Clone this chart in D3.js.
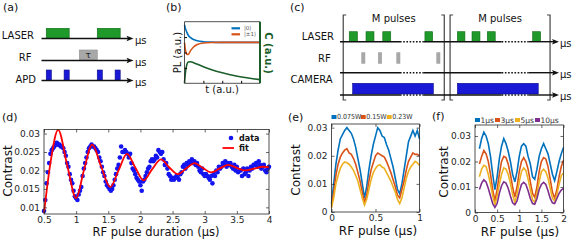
<!DOCTYPE html>
<html>
<head>
<meta charset="utf-8">
<script src="https://cdn.jsdelivr.net/npm/d3@7/dist/d3.min.js"></script>
<style>
  html, body { margin: 0; padding: 0; background: #fff; }
  svg { display: block; font-family: 'DejaVu Sans', sans-serif; }
</style>
</head>
<body>
<svg id="fig" width="575" height="240"></svg>
<script>
/* ---- (a) pulse sequence, arbitrary time units 0..10 ---- */
const aLaser = [[0.5, 3.2], [6.5, 9.2]];
const aRF = [[4.4, 6.5]];
const aAPD = [[0.5, 1.1], [2.6, 3.2], [6.5, 7.1], [8.6, 9.2]];

/* ---- (b) PL / contrast sketch, arbitrary units ---- */
const bT = [0, 0.01, 0.03, 0.05, 0.08, 0.12, 0.17, 0.25, 0.35, 0.5, 0.7, 1.0];
const bPL0 = [0.95, 0.9, 0.83, 0.78, 0.74, 0.71, 0.69, 0.675, 0.668, 0.665, 0.665, 0.665];
const bPL1 = [0.66, 0.56, 0.47, 0.47, 0.53, 0.59, 0.63, 0.655, 0.663, 0.665, 0.665, 0.665];
const bC = [0.0, 0.15, 0.3, 0.345, 0.35, 0.335, 0.31, 0.27, 0.225, 0.17, 0.115, 0.06];

/* ---- (c) camera sequence, arbitrary units 0..100 ---- */
const cLaser = [[4.3, 8.1], [12.1, 15.8], [19.9, 23.6], [39.5, 43.1], [54.6, 58.1], [61.4, 65.1], [68.5, 72.2], [89.6, 93.3]];
const cRF = [[10.1, 11.6], [17.8, 19.4], [26.4, 27.9], [45, 46.5]];
const cCamera = [[5.9, 43.4], [54.6, 92.2]];
const cGaps = [[27.9, 38.7], [75.2, 87.6]];
const cBrackets = [[1.5, 48.5], [51.2, 97.7]];

/* ---- (d) Rabi data + fit ---- */
const dStart = 0.5, dStep = 0.02;
const dData = [
  0.009, 0.012, 0.0165, 0.0195, 0.022, 0.0245, 0.0255, 0.026, 0.0265, 0.027,
  0.0275, 0.027, 0.027, 0.0265, 0.0265, 0.026, 0.025, 0.024, 0.022, 0.021,
  0.019, 0.0175, 0.0165, 0.0145, 0.013, 0.0125, 0.012, 0.0135, 0.0145, 0.0155,
  0.0185, 0.0205, 0.022, 0.0235, 0.025, 0.026, 0.0265, 0.027, 0.0265, 0.0265,
  0.026, 0.0255, 0.025, 0.0235, 0.0225, 0.021, 0.0195, 0.0185, 0.017, 0.016,
  0.0155, 0.015, 0.0145, 0.015, 0.016, 0.0175, 0.019, 0.0205, 0.0215, 0.0235,
  0.0265, 0.025, 0.025, 0.0255, 0.025, 0.0245, 0.0235, 0.0245, 0.022, 0.0205,
  0.02, 0.019, 0.018, 0.0175, 0.017, 0.016, 0.0145, 0.017, 0.0175, 0.0185,
  0.0195, 0.0205, 0.021, 0.0225, 0.023, 0.0225, 0.023, 0.024, 0.0235, 0.0255,
  0.025, 0.0245, 0.025, 0.023, 0.0215, 0.022, 0.0205, 0.019, 0.0185, 0.0175,
  0.018, 0.0175, 0.018, 0.0185, 0.018, 0.0175, 0.019, 0.0195, 0.021, 0.0215,
  0.0205, 0.022, 0.0215, 0.0225, 0.022, 0.023, 0.022, 0.0225, 0.0215, 0.022,
  0.021, 0.02, 0.0195, 0.0205, 0.019, 0.0185, 0.019, 0.0185, 0.018, 0.0175,
  0.0185, 0.0165, 0.019, 0.0185, 0.02, 0.0195, 0.021, 0.0205, 0.021, 0.022,
  0.0215, 0.0225, 0.021, 0.022, 0.0215, 0.022, 0.021, 0.0205, 0.0215, 0.02,
  0.021, 0.0195, 0.02, 0.02, 0.0185, 0.0205, 0.019, 0.0195, 0.0205, 0.0185,
  0.02, 0.021, 0.0205, 0.0215, 0.0215, 0.022, 0.021, 0.0225, 0.0215, 0.0205,
  0.021, 0.0215, 0.02, 0.0195, 0.0205, 0.021
];
const fitT = [0.5, 0.6, 0.72, 0.86, 1.0, 1.12, 1.25, 1.39, 1.53, 1.66, 1.79, 1.92, 2.05, 2.18,
  2.32, 2.45, 2.58, 2.71, 2.84, 2.97, 3.10, 3.23, 3.37, 3.50, 3.63, 3.77, 3.90, 4.0];
const fitV = [0.0085, 0.022, 0.031, 0.0215, 0.0125, 0.020, 0.027, 0.021, 0.0155, 0.020, 0.0245, 0.0208,
  0.0173, 0.0203, 0.023, 0.0208, 0.019, 0.0205, 0.022, 0.0207, 0.0195, 0.0205, 0.0215, 0.0207,
  0.0200, 0.0205, 0.021, 0.0209];

/* ---- (e) power dependence ---- */
const eT = d3.range(0, 41).map(i => i * 0.025);
const eNames = ['0.075W', '0.15W', '0.23W'];
const eSeries = [
  [0.003, 0.010, 0.017, 0.022, 0.026, 0.0275, 0.029, 0.030, 0.029, 0.028, 0.026, 0.023, 0.019, 0.015,
   0.010, 0.005, 0.009, 0.015, 0.020, 0.024, 0.027, 0.030, 0.029, 0.027, 0.0265, 0.024, 0.022, 0.019,
   0.016, 0.012, 0.008, 0.0065, 0.010, 0.015, 0.020, 0.025, 0.027, 0.029, 0.027, 0.029, 0.026],
  [0.002, 0.007, 0.013, 0.017, 0.0195, 0.021, 0.022, 0.0225, 0.021, 0.0205, 0.019, 0.017, 0.014, 0.011,
   0.007, 0.0035, 0.006, 0.011, 0.015, 0.0175, 0.020, 0.021, 0.0205, 0.020, 0.0195, 0.018, 0.016, 0.014,
   0.0115, 0.009, 0.006, 0.005, 0.008, 0.011, 0.015, 0.018, 0.0195, 0.021, 0.0205, 0.0205, 0.020],
  [0.0015, 0.005, 0.010, 0.013, 0.0155, 0.017, 0.0178, 0.0175, 0.017, 0.016, 0.0148, 0.013, 0.011, 0.008,
   0.005, 0.0025, 0.0045, 0.008, 0.0115, 0.014, 0.0155, 0.0165, 0.0168, 0.016, 0.0155, 0.014, 0.0125, 0.011,
   0.009, 0.007, 0.0045, 0.003, 0.005, 0.0085, 0.012, 0.0145, 0.016, 0.017, 0.018, 0.0175, 0.0165]
];

/* ---- (f) laser pulse length dependence ---- */
const fT = d3.range(0, 39).map(i => 0.1 + i * 0.05);
const fNames = ['1µs', '3µs', '5µs', '10µs'];
const fSeries = [
  [0.025, 0.029, 0.0315, 0.030, 0.027, 0.022, 0.015, 0.009, 0.014, 0.021, 0.026, 0.029, 0.027,
   0.024, 0.020, 0.015, 0.012, 0.016, 0.022, 0.026, 0.027, 0.026, 0.022, 0.019, 0.014, 0.013,
   0.017, 0.022, 0.025, 0.027, 0.025, 0.023, 0.019, 0.015, 0.0125, 0.016, 0.020, 0.023, 0.0255],
  [0.019, 0.022, 0.0243, 0.023, 0.020, 0.015, 0.009, 0.0045, 0.009, 0.015, 0.020, 0.022, 0.0215,
   0.019, 0.015, 0.010, 0.006, 0.010, 0.016, 0.020, 0.0215, 0.020, 0.017, 0.012, 0.0075, 0.006,
   0.010, 0.016, 0.020, 0.0215, 0.021, 0.018, 0.013, 0.008, 0.0055, 0.009, 0.014, 0.018, 0.0205],
  [0.014, 0.017, 0.0185, 0.018, 0.015, 0.011, 0.0065, 0.003, 0.0065, 0.011, 0.015, 0.0175, 0.017,
   0.015, 0.0115, 0.007, 0.004, 0.007, 0.012, 0.016, 0.0175, 0.0165, 0.013, 0.009, 0.005, 0.004,
   0.0075, 0.012, 0.016, 0.017, 0.016, 0.0135, 0.0095, 0.0055, 0.0045, 0.007, 0.011, 0.0145, 0.0155],
  [0.009, 0.0115, 0.0128, 0.012, 0.0095, 0.0065, 0.0035, 0.002, 0.0035, 0.0075, 0.0105, 0.012, 0.0115,
   0.0095, 0.0065, 0.0038, 0.003, 0.0045, 0.008, 0.011, 0.0118, 0.011, 0.0085, 0.0055, 0.0035, 0.0032,
   0.0055, 0.009, 0.011, 0.0118, 0.011, 0.0085, 0.0055, 0.0038, 0.0035, 0.0055, 0.0075, 0.0088, 0.0095]
];

const MAT = ['#0072BD', '#D95319', '#EDB120', '#7E2F8E'];
const GREEN = '#1f9a2a', GREEN_DK = '#0e6a15';
const BLUE_P = '#1a1ad6', BLUE_DK = '#0a0a8a';
const AX = '#262626';

const svg = d3.select('#fig');
svg.append('rect').attr('width', 575).attr('height', 240).attr('fill', '#fff');

function label(txt, x, y, opts = {}) {
  const t = svg.append('text')
    .attr('x', x).attr('y', y)
    .attr('dy', '0.35em')
    .attr('text-anchor', opts.anchor || 'start')
    .attr('font-size', opts.size || 10)
    .attr('font-weight', opts.weight || 'normal')
    .attr('fill', opts.fill || '#111')
    .text(txt);
  if (opts.family) t.attr('font-family', opts.family);
  return t;
}

function vlabel(txt, x, y, opts = {}) {
  return svg.append('text')
    .attr('transform', `translate(${x},${y}) rotate(${opts.rot || -90})`)
    .attr('dy', '0.35em')
    .attr('text-anchor', 'middle')
    .attr('font-size', opts.size || 11)
    .attr('font-weight', opts.weight || 'normal')
    .attr('fill', opts.fill || '#111')
    .text(txt);
}

/* arrow line with optional dotted gaps */
function timeLine(g, x, y, x0, tip, gaps) {
  const stops = [x0];
  (gaps || []).forEach(([a, b]) => { stops.push(x(a), x(b)); });
  stops.push(tip - 5);
  for (let i = 0; i < stops.length - 1; i++) {
    g.append('line')
      .attr('x1', stops[i]).attr('x2', stops[i + 1])
      .attr('y1', y).attr('y2', y)
      .attr('stroke', '#111').attr('stroke-width', 1.4)
      .attr('stroke-dasharray', i % 2 === 1 ? '1.6,1.6' : null);
  }
  g.append('path')
    .attr('d', `M${tip},${y} L${tip - 7},${y - 2.8} L${tip - 5.5},${y} L${tip - 7},${y + 2.8} Z`)
    .attr('fill', '#111');
}

function pulses(g, x, list, yTop, yBot, fill, stroke) {
  g.selectAll(null).data(list).join('rect')
    .attr('x', d => x(d[0])).attr('width', d => x(d[1]) - x(d[0]))
    .attr('y', yTop).attr('height', yBot - yTop)
    .attr('fill', fill).attr('stroke', stroke).attr('stroke-width', 0.6);
}

/* ================= (a) ================= */
(function () {
  const g = svg.append('g');
  const x = d3.scaleLinear().domain([0, 10]).range([42, 127]);
  label('(a)', 3, 7, { size: 11 });
  const rows = [
    { name: 'LASER', y: 38.5, ly: 35.5, lx: 34 },
    { name: 'RF', y: 60.5, ly: 57.5, lx: 31.5 },
    { name: 'APD', y: 80.5, ly: 79, lx: 36 }
  ];
  pulses(g, x, aLaser, 28.3, 38.5, GREEN, GREEN_DK);
  pulses(g, x, aRF, 50, 59.5, '#a8a8a8', '#8c8c8c');
  g.append('text').attr('x', x((aRF[0][0] + aRF[0][1]) / 2)).attr('y', 55)
    .attr('dy', '0.35em').attr('text-anchor', 'middle').attr('font-size', 9).attr('fill', '#222').text('τ');
  pulses(g, x, aAPD, 70, 80.5, BLUE_P, BLUE_DK);
  rows.forEach(r => {
    timeLine(g, x, r.y, 41.5, 133.5, []);
    label(r.name, r.lx, r.ly, { anchor: 'end' });
    label('µs', 135, r.y + 1.5);
  });
})();

/* ================= (b) ================= */
(function () {
  const g = svg.append('g');
  const x = d3.scaleLinear().domain([0, 1]).range([184.5, 260]);
  const y = d3.scaleLinear().domain([0, 1]).range([83.3, 21.7]);
  label('(b)', 166, 7, { size: 11 });
  const line = vals => d3.line().x((d, i) => x(bT[i])).y(d => y(d)).curve(d3.curveMonotoneX)(vals);
  g.append('path').attr('d', line(bC)).attr('fill', 'none').attr('stroke', '#1b5e2a').attr('stroke-width', 1.6);
  g.append('path').attr('d', line(bPL0)).attr('fill', 'none').attr('stroke', MAT[0]).attr('stroke-width', 1.6);
  g.append('path').attr('d', line(bPL1)).attr('fill', 'none').attr('stroke', MAT[1]).attr('stroke-width', 1.6);
  // axes frame
  g.append('line').attr('x1', 184.5).attr('x2', 184.5).attr('y1', 21.7).attr('y2', 83.3).attr('stroke', AX).attr('stroke-width', 0.8);
  g.append('line').attr('x1', 184.5).attr('x2', 260).attr('y1', 83.3).attr('y2', 83.3).attr('stroke', AX).attr('stroke-width', 0.8);
  g.append('line').attr('x1', 184.5).attr('x2', 260).attr('y1', 21.7).attr('y2', 21.7).attr('stroke', AX).attr('stroke-width', 0.8);
  g.append('line').attr('x1', 260).attr('x2', 260).attr('y1', 21.7).attr('y2', 83.3).attr('stroke', '#1b5e2a').attr('stroke-width', 2);
  g.append('g').attr('transform', 'translate(0,83.3)')
    .call(d3.axisBottom(x).tickValues([0.25, 0.5, 0.75]).tickSizeInner(-2.5).tickSizeOuter(0).tickFormat(''))
    .call(s => s.select('.domain').remove());
  g.append('g').attr('transform', 'translate(184.5,0)')
    .call(d3.axisLeft(y).tickValues([0.25, 0.5, 0.75]).tickSizeInner(-2.5).tickSizeOuter(0).tickFormat(''))
    .call(s => s.select('.domain').remove());
  // legend
  const leg = [['|0⟩', MAT[0], 28.3], ['|±1⟩', MAT[1], 34.3]];
  leg.forEach(([t, c, yy]) => {
    g.append('line').attr('x1', 231.5).attr('x2', 240).attr('y1', yy).attr('y2', yy).attr('stroke', c).attr('stroke-width', 2.2);
    g.append('text').attr('x', 244).attr('y', yy).attr('dy', '0.35em').attr('font-size', 5.5).attr('fill', '#555').text(t);
  });
  vlabel('PL (a.u.)', 177.5, 52.5, { size: 10 });
  label('t (a.u.)', 222, 89.5, { anchor: 'middle', size: 10 });
  vlabel('C (a.u.)', 268.5, 53, { size: 10, rot: 90, weight: 'bold', fill: '#1b5e2a' });
})();

/* ================= (c) ================= */
(function () {
  const g = svg.append('g');
  const x = d3.scaleLinear().domain([0, 100]).range([340, 555]);
  label('(c)', 290, 7, { size: 11 });
  cBrackets.forEach(([a, b]) => {
    g.append('path').attr('d', `M${x(a) + 3},15 H${x(a)} V100 H${x(a) + 3}`)
      .attr('fill', 'none').attr('stroke', '#444').attr('stroke-width', 1.2);
    g.append('path').attr('d', `M${x(b) - 3},15 H${x(b)} V100 H${x(b) - 3}`)
      .attr('fill', 'none').attr('stroke', '#444').attr('stroke-width', 1.2);
    label('M pulses', (x(a) + x(b)) / 2, 18, { anchor: 'middle' });
  });
  pulses(g, x, cLaser, 31.7, 41.7, GREEN, GREEN_DK);
  pulses(g, x, cRF, 52.7, 63.3, '#a8a8a8', '#a0a0a0');
  pulses(g, x, cCamera, 83.3, 94, BLUE_P, BLUE_DK);
  const rows = [
    { name: 'LASER', y: 41.7, ly: 36, lx: 334 },
    { name: 'RF', y: 72.7, ly: 58.3, lx: 330.7 },
    { name: 'CAMERA', y: 95, ly: 79.3, lx: 332.7 }
  ];
  rows.forEach(r => {
    timeLine(g, x, r.y, 340, 559, cGaps);
    label(r.name, r.lx, r.ly, { anchor: 'end' });
    label('µs', 560, r.y + 1.5);
  });
})();

/* ---- MATLAB-like boxed axes ---- */
function boxAxes(x, y, xticks, yticks) {
  const g = svg.append('g');
  const [x0, x1] = x.range(), [y0, y1] = y.range();
  g.append('g').attr('transform', `translate(0,${y0})`)
    .call(d3.axisBottom(x).tickValues(xticks).tickSizeInner(-3).tickSizeOuter(0).tickPadding(3).tickFormat(d => String(d)));
  g.append('g').attr('transform', `translate(0,${y1})`)
    .call(d3.axisTop(x).tickValues(xticks).tickSizeInner(-3).tickSizeOuter(0).tickFormat(''));
  g.append('g').attr('transform', `translate(${x0},0)`)
    .call(d3.axisLeft(y).tickValues(yticks).tickSizeInner(-3).tickSizeOuter(0).tickPadding(4).tickFormat(d => String(d)));
  g.append('g').attr('transform', `translate(${x1},0)`)
    .call(d3.axisRight(y).tickValues(yticks).tickSizeInner(-3).tickSizeOuter(0).tickFormat(''));
  g.selectAll('.domain').remove();
  g.selectAll('.tick line').attr('stroke', AX).attr('stroke-width', 0.7);
  g.selectAll('.tick text').attr('fill', AX).attr('font-size', 9).attr('font-family', "'DejaVu Sans', sans-serif");
  g.append('rect').attr('x', x0).attr('y', y1).attr('width', x1 - x0).attr('height', y0 - y1)
    .attr('fill', 'none').attr('stroke', AX).attr('stroke-width', 0.8);
  return g;
}

/* ================= (d) ================= */
(function () {
  const x = d3.scaleLinear().domain([0.5, 4]).range([44, 269]);
  const y = d3.scaleLinear().domain([0.0082, 0.0311]).range([214, 129.5]);
  const g = svg.append('g');
  g.selectAll(null).data(dData).join('circle')
    .attr('cx', (d, i) => x(dStart + i * dStep)).attr('cy', d => y(d))
    .attr('r', 2.3).attr('fill', '#1414f0');
  g.append('path')
    .attr('d', d3.line().x((d, i) => x(fitT[i])).y(d => y(d)).curve(d3.curveMonotoneX)(fitV))
    .attr('fill', 'none').attr('stroke', '#ff0000').attr('stroke-width', 1.8);
  boxAxes(x, y, [0.5, 1, 1.5, 2, 2.5, 3, 3.5, 4], [0.01, 0.015, 0.02, 0.025, 0.03]);
  // legend
  g.append('circle').attr('cx', 231).attr('cy', 138).attr('r', 2.3).attr('fill', '#1414f0');
  g.append('line').attr('x1', 222.5).attr('x2', 234).attr('y1', 148).attr('y2', 148).attr('stroke', '#ff0000').attr('stroke-width', 1.8);
  label('data', 239, 138, { size: 8, weight: 'bold' });
  label('fit', 239, 148, { size: 8, weight: 'bold' });
  label('(d)', 2, 117, { size: 11 });
  vlabel('Contrast', 8, 171, { size: 12 });
  label('RF pulse duration (µs)', 156, 232, { anchor: 'middle', size: 11.5 });
})();

/* ================= (e) ================= */
(function () {
  const x = d3.scaleLinear().domain([0, 1]).range([331.5, 419.5]);
  const y = d3.scaleLinear().domain([0, 0.0313]).range([212, 124]);
  const g = svg.append('g');
  const line = d3.line().x((d, i) => x(eT[i])).y(d => y(d));
  eSeries.forEach((s, k) => {
    g.append('path').attr('d', line(s)).attr('fill', 'none').attr('stroke', MAT[k]).attr('stroke-width', 1.6);
  });
  boxAxes(x, y, [0, 0.5, 1], [0, 0.01, 0.02, 0.03]);
  const lx = [331.5, 360.7, 386.7];
  eNames.forEach((n, k) => {
    g.append('rect').attr('x', lx[k]).attr('y', 115).attr('width', 5).attr('height', 4).attr('fill', MAT[k]);
    label(n, lx[k] + 5.5, 117, { size: 7, fill: '#333', family: "'DejaVu Sans Condensed', 'DejaVu Sans', sans-serif" });
  });
  label('(e)', 288, 117, { size: 11 });
  vlabel('Contrast', 296, 170, { size: 12 });
  label('RF pulse (µs)', 378, 231, { anchor: 'middle', size: 12 });
})();

/* ================= (f) ================= */
(function () {
  const x = d3.scaleLinear().domain([0, 2]).range([475, 563.5]);
  const y = d3.scaleLinear().domain([0, 0.0343]).range([212.5, 125]);
  const g = svg.append('g');
  const line = d3.line().x((d, i) => x(fT[i])).y(d => y(d));
  fSeries.forEach((s, k) => {
    g.append('path').attr('d', line(s)).attr('fill', 'none').attr('stroke', MAT[k]).attr('stroke-width', 1.6);
  });
  boxAxes(x, y, [0, 0.5, 1, 1.5, 2], [0, 0.01, 0.02, 0.03]);
  const lx = [475, 495, 515, 535];
  fNames.forEach((n, k) => {
    g.append('rect').attr('x', lx[k]).attr('y', 118).attr('width', 5).attr('height', 4).attr('fill', MAT[k]);
    label(n, lx[k] + 5.5, 120, { size: 7.5, fill: '#333' });
  });
  label('(f)', 432, 116, { size: 11 });
  vlabel('Contrast', 444, 172, { size: 12 });
  label('RF pulse (µs)', 520, 231.5, { anchor: 'middle', size: 12 });
})();
</script>
</body>
</html>
